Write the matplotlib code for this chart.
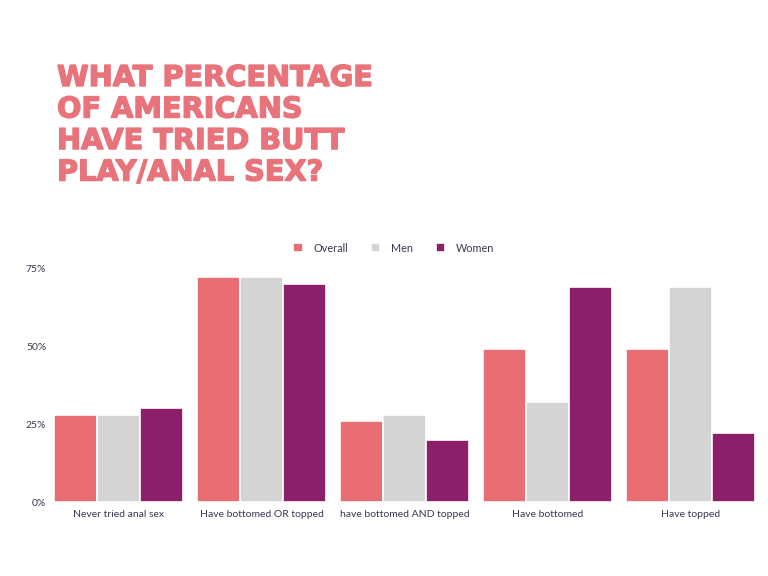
import matplotlib
matplotlib.use("Agg")
import matplotlib.pyplot as plt
import matplotlib.patheffects as pe
import numpy as np

categories = ["Never tried anal sex", "Have bottomed OR topped", "have bottomed AND topped",
              "Have bottomed", "Have topped"]
series_names = ["Overall", "Men", "Women"]
overall = [28, 72, 26, 49, 49]
men = [28, 72, 28, 32, 69]
women = [30, 70, 20, 69, 22]
yticks = [0, 25, 50, 75]
ytick_labels = ["0%", "25%", "50%", "75%"]

colors = ["#E86E73", "#D4D4D4", "#8B1F6A"]
text_color = "#3E3650"
title_color = "#E8737B"

plt.rcParams['font.family'] = ['Lato', 'DejaVu Sans']

fig = plt.figure(figsize=(7.68, 5.76), dpi=100)
ax = fig.add_axes([47/768, 74/576, 715/768, 234/576])

x = np.arange(len(categories))
w = 0.3
for i, (vals, c) in enumerate(zip([overall, men, women], colors)):
    ax.bar(x + (i - 1) * w, vals, width=w, color=c, edgecolor="white", linewidth=1.2,
           label=series_names[i])

ax.set_xlim(-0.5, len(categories) - 0.5)
ax.set_ylim(0, 75)
ax.set_yticks(yticks)
ax.set_yticklabels(ytick_labels)
ax.set_xticks(x)
ax.set_xticklabels(categories)
for s in ax.spines.values():
    s.set_visible(False)
ax.tick_params(axis='both', length=0, colors=text_color, labelsize=7.5)
ax.tick_params(axis='x', pad=6)
ax.tick_params(axis='y', pad=0.5)

leg = ax.legend(loc="lower center", bbox_to_anchor=(0.485, 1.02), ncol=3, frameon=False,
                fontsize=7.8, handlelength=0.85, handleheight=0.85, columnspacing=2.1,
                handletextpad=1.0)
for t in leg.get_texts():
    t.set_color(text_color)

fig.text(57/768, 1 - 64/576, "WHAT PERCENTAGE\nOF AMERICANS\nHAVE TRIED BUTT\nPLAY/ANAL SEX?",
         ha="left", va="top", fontsize=20.7, fontweight="bold", color=title_color,
         family=["DejaVu Sans"], linespacing=1.16,
         path_effects=[pe.withStroke(linewidth=1.0, foreground=title_color)])

fig.savefig("out.png", dpi=100)
